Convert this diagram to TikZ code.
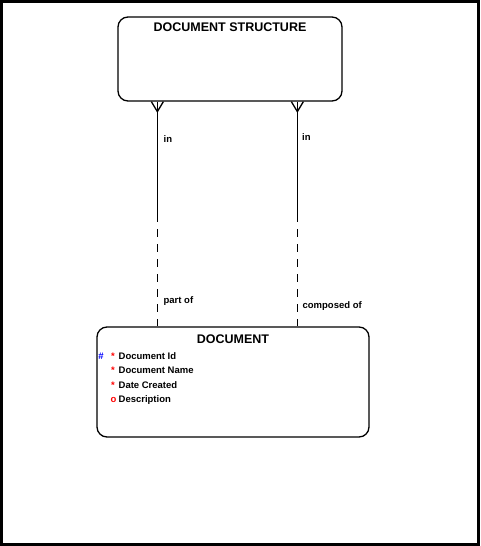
\documentclass[tikz,border=0pt]{standalone}
\usepackage{fontspec}
\setmainfont{Liberation Sans}
\usetikzlibrary{positioning,calc}

\begin{document}
\begin{tikzpicture}[x=1pt,y=-1pt,line width=1.3pt,
    entity/.style={draw,rounded corners=10pt,inner sep=0pt},
    title/.style={font=\fontsize{12.5}{14}\selectfont\bfseries,anchor=base,inner sep=0pt},
    attr/.style={font=\fontsize{9.5}{11}\selectfont\bfseries,anchor=base west,inner sep=0pt},
    mark node/.style={font=\fontsize{9.5}{11}\selectfont\bfseries,anchor=base,inner sep=0pt},
    rel/.style={font=\fontsize{9.5}{11}\selectfont\bfseries,anchor=base west,inner sep=0pt},
    dashed line/.style={dash pattern=on 8pt off 7pt}]
  \useasboundingbox (0,0) rectangle (480,546);
  \draw[line width=3pt] (1.5,1.5) rectangle (478.5,544.5);

  % entities
  \node[entity,minimum width=224pt,minimum height=84pt] (ds) at (230,59) {};
  \node[title] (dst) at (230,31.5) {DOCUMENT STRUCTURE};
  \node[entity,minimum width=272pt,minimum height=110pt] (doc) at (233,382) {};
  \node[title] (doct) at (233,343) {DOCUMENT};

  % attributes
  \node[attr] (a1) at (118,359) {Document Id};
  \node[attr] (a2) at (118,373.5) {Document Name};
  \node[attr] (a3) at (118,388) {Date Created};
  \node[attr] (a4) at (118,402.5) {Description};
  \node[mark node,blue] at (101,359) {\#};
  \node[mark node,red] at (113,359) {*};
  \node[mark node,red] at (113,373.5) {*};
  \node[mark node,red] at (113,388) {*};
  \node[mark node,red] at (113.5,402.5) {o};

  % relationship lines
  \coordinate (l1) at ($(ds.south west)+(40,0)$);
  \coordinate (l2) at ($(ds.south west)+(180,0)$);
  \coordinate (m1) at ($(l1)!.5!(l1 |- doc.north)$);
  \coordinate (m2) at ($(l2)!.5!(l2 |- doc.north)$);
  \draw (l1) -- (m1);
  \draw[dashed line] (m1) -- (l1 |- doc.north);
  \draw (l2) -- (m2);
  \draw[dashed line] (m2) -- (l2 |- doc.north);
  \draw ($(l1)+(-6,0)$) -- ($(l1)+(0,10)$) -- ($(l1)+(6,0)$);
  \draw ($(l2)+(-6,0)$) -- ($(l2)+(0,10)$) -- ($(l2)+(6,0)$);

  \node[rel] at (163,142) {in};
  \node[rel] at (301.5,140) {in};
  \node[rel] at (163,303) {part of};
  \node[rel] at (302,308) {composed of};
\end{tikzpicture}
\end{document}
